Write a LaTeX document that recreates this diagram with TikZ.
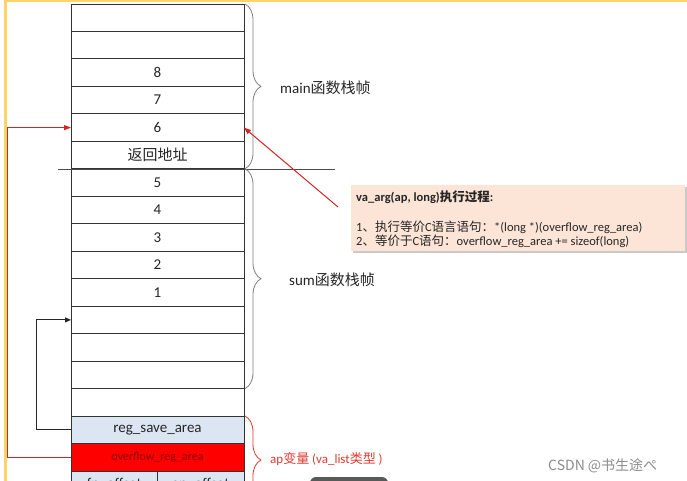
\documentclass[tikz,border=0pt]{standalone}
\usepackage{fontspec}
\setmainfont{Carlito}
\newfontfamily\cjk{Noto Sans CJK SC}
\usetikzlibrary{decorations.pathreplacing,shadows,arrows.meta,calc}
\newcommand{\zhtxt}[1]{{\cjk #1}}
\definecolor{yborder}{HTML}{FDD468}
\definecolor{cellblue}{HTML}{DCE6F2}
\definecolor{peach}{HTML}{FCE4D6}
\definecolor{lblred}{HTML}{E03A30}
\definecolor{arrred}{HTML}{D42424}
\definecolor{darkred}{HTML}{8E0000}
\tikzset{
  cell/.style={draw=black!80, line width=0.9pt, minimum width=173pt, minimum height=27.47pt,
    inner sep=0pt, outer sep=0pt, font=\fontsize{15}{18}\selectfont, text=black!85},
  halfcell/.style={cell, minimum width=86.5pt},
  brc/.style={decorate, decoration={brace, amplitude=16pt, aspect=0.5}, draw=black!50, line width=0.8pt},
  lbl/.style={anchor=west, inner sep=0pt, font=\fontsize{15}{18}\selectfont, text=black!85},
  redarrow/.style={draw=arrred, line width=1pt, -{Triangle[length=7pt,width=5pt]}},
  blkarrow/.style={draw=black!85, line width=1pt, -{Triangle[length=6pt,width=5pt]}},
  callout/.style={fill=peach, draw=none, minimum width=334pt, minimum height=66pt, inner sep=0pt,
    drop shadow={shadow xshift=1.5pt, shadow yshift=-2pt, opacity=0.35, fill=black!60}},
  ctext/.style={anchor=west, inner sep=0pt, font=\fontsize{12.5}{15}\selectfont, text=black!85},
}
\begin{document}
\begin{tikzpicture}[x=1pt,y=-1pt]
\useasboundingbox (0,0) rectangle (687,481);
\clip (0,0) rectangle (687,481);
\fill[white] (0,0) rectangle (687,481);
% screenshot frame
\fill[yborder] (4,0) rectangle (687,2);
\fill[yborder] (4,0) rectangle (6.5,481);

% stack rows
\foreach \i/\t in {0/,1/,2/8,3/7,4/6,5/{\zhtxt{返回地址}},6/5,7/4,8/3,9/2,10/1,11/,12/,13/,14/}{
  \node[cell] (r\i) at (157.5,{4+27.47*(\i+0.5)}) {\t};
}
\node[cell, fill=cellblue] (r15) at (157.5,{4+27.47*15.5}) {reg\_save\_area};
\node[cell, fill=red, text=darkred, font=\fontsize{12}{14}\selectfont] (r16) at (157.5,{4+27.47*16.5}) {overflow\_reg\_area};
\node[halfcell, fill=cellblue] (r17a) at (114.25,{4+27.47*17.5}) {fp\_offset};
\node[halfcell, fill=cellblue] (r17b) at (200.75,{4+27.47*17.5}) {gp\_offset};

% separator between frames
\coordinate (sepL) at (58,169.3);
\coordinate (sepR) at (335,169.3);
\draw[line width=1.2pt, black!70] (sepL) -- (sepR);

% braces and labels
\draw[brc] ([xshift=1pt]r0.north east) -- ([xshift=1pt]r5.south east);
\node[lbl] (mainlbl) at (280,88) {main\zhtxt{函数栈帧}};
\draw[brc] ([xshift=1pt]r6.north east) -- ([xshift=1pt]r13.south east);
\node[lbl] (sumlbl) at (289,280) {sum\zhtxt{函数栈帧}};
\coordinate (apend) at (245,504);
\draw[brc, draw=lblred] ([xshift=1pt]r15.north east) -- (apend);
\node[lbl, text=lblred, font=\fontsize{13}{16}\selectfont] (aplbl) at (270,459) {ap\zhtxt{变量} (va\_list\zhtxt{类型} )};

% callout
\node[callout] (co) at (518,218) {};
\node[ctext, font=\bfseries\fontsize{12.5}{15}\selectfont] (cot) at (356,197) {va\_arg(ap, long)\zhtxt{执行过程}:};
\node[ctext] (co1) at (356,227) {1\zhtxt{、执行等价}C\zhtxt{语言语句：}*(long *)(overflow\_reg\_area)};
\node[ctext] (co2) at (356,241) {2\zhtxt{、等价于}C\zhtxt{语句：}overflow\_reg\_area += sizeof(long)};
\coordinate (cs) at (338,207);
\draw[redarrow] (cs) -- (r4.east);

% connectors on the left
\draw[redarrow] (r16.west) -- ++(-63.5,0) |- (r4.west);
\draw[blkarrow] (r15.west) -- ++(-35,0) |- (r11.west);

% watermark and overlay
\node[anchor=west, inner sep=0pt, text=black!45, font=\cjk\fontsize{14}{16}\selectfont] (wm) at (548,466) {CSDN @书生途ぺ};
\node[fill=black!65, rounded corners=6pt, minimum width=78pt, minimum height=14pt, inner sep=0pt] (ovl) at (349,484) {};
\end{tikzpicture}
\end{document}
